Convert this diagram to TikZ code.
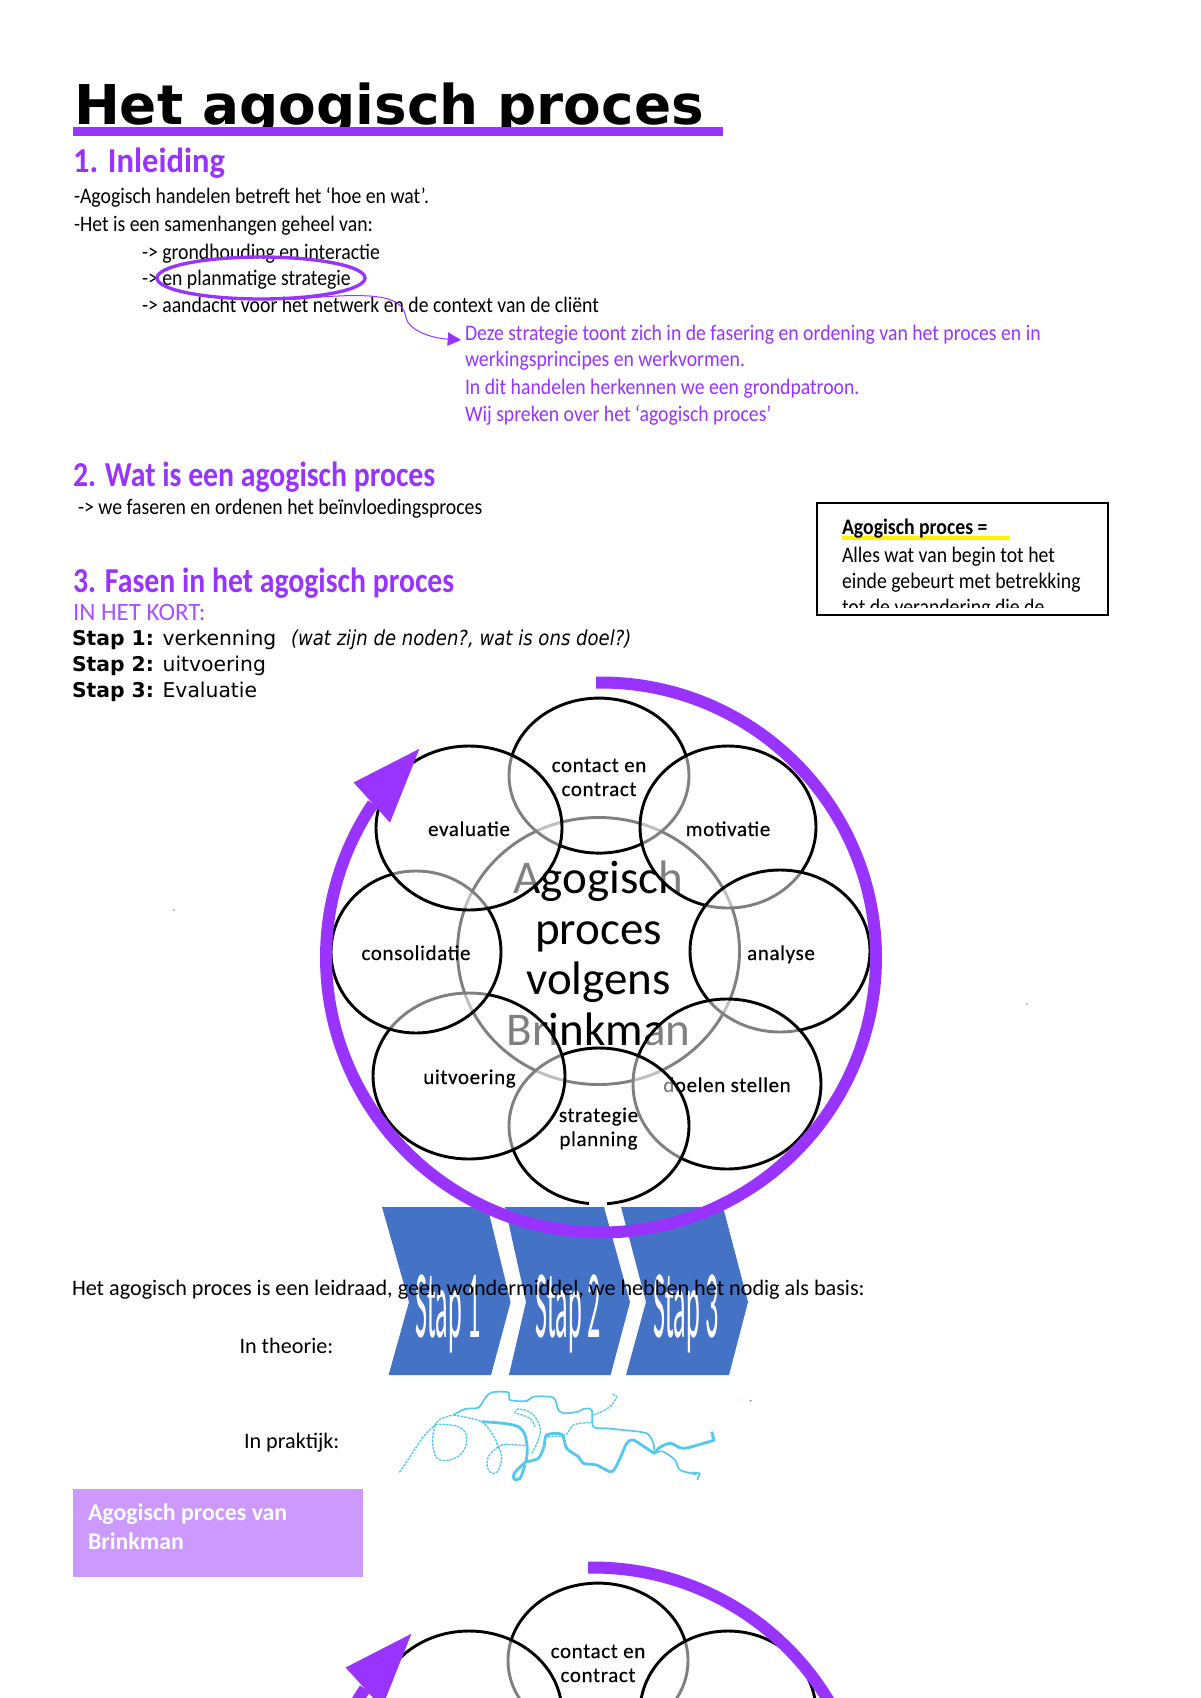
\documentclass[tikz,border=0pt]{standalone}
\usepackage{fontspec}
\usetikzlibrary{shapes.geometric,arrows.meta}
\setmainfont{Carlito}
\newfontfamily\nar[FakeStretch=.89]{Carlito}
\newfontfamily\hed[FakeStretch=.85]{Carlito}
\newfontfamily\vd{DejaVu Sans}
\definecolor{purp}{HTML}{9933FF}
\definecolor{lilac}{HTML}{CC99FF}
\definecolor{chev}{HTML}{4472C4}
\definecolor{sky}{HTML}{55C8EE}
\newcommand{\fsz}[1]{\fontsize{#1pt}{#1pt}\selectfont}
\tikzset{
  txt/.style={anchor=base west,inner sep=0pt,outer sep=0pt},
  ctr/.style={anchor=base,inner sep=0pt,outer sep=0pt},
  petalstyle/.style={draw=black,ellipse,inner sep=0pt,line width=1.75pt,fill=white,fill opacity=.5},
  body/.style={txt,font=\nar\fsz{13.3}},
  plain/.style={txt,font=\fsz{13.3}},
  pbody/.style={txt,font=\nar\fsz{13.3},text=purp},
  head/.style={txt,font=\hed\fsz{21}\bfseries,text=purp},
  vdt/.style={txt,font=\vd\fsz{12.2}},
  lab/.style={ctr,font=\fsz{12.6}\addfontfeatures{LetterSpace=3,FakeBold=.3}},
  ctrtxt/.style={ctr,font=\fsz{28.2}},
  chevron/.style={fill=chev,draw=none},
  staptxt/.style={ctr,text=white,font=\fsz{58}},
  dotsq/.style={draw=sky,line width=.8pt,dash pattern=on 1.6pt off .6pt,line join=round},
  thinsq/.style={draw=sky,line width=1pt,line join=round},
  fatsq/.style={draw=sky,line width=1.7pt,line join=round}
}
\newcommand{\petal}[5]{\node[petalstyle,minimum width=#4*1.2pt,minimum height=#5*1.2pt] (#1) at (#2,#3) {};}
\newcommand{\ringarc}[2]{%
  \draw[purp,line width=7.2pt] plot[domain=-91:214,samples=160,smooth] ({#1+275*cos(\x)},{#2+275*sin(\x)});
}
\begin{document}
\begin{tikzpicture}[x=0.6pt,y=-0.6pt]
\useasboundingbox (0,0) rectangle (1200,1698);
\fill[white] (0,0) rectangle (1200,1698);
% title
\begin{scope}
\clip (0,60) rectangle (1200,128);
\node[txt,font=\vd\bfseries\fsz{32.9}] (title) at (74,125) {Het agogisch proces};
\end{scope}
\fill[purp] (73,127.5) rectangle (723,136);
\node[head,font=\fsz{21}\bfseries\addfontfeatures{FakeStretch=.93}] (h1) at (73,173) {1. Inleiding};
\node[body] (l1) at (74,204) {-Agogisch handelen betreft het ‘hoe en wat’.};
\node[body] (l2) at (74,232) {-Het is een samenhangen geheel van:};
\node[body] (l3) at (142,260) {-> grondhouding en interactie};
\node[body] (l4) at (142,286) {-> en planmatige strategie};
\node[body] (l5) at (142,313) {-> aandacht voor het netwerk en de context van de cliënt};
\node[draw=purp,line width=2pt,ellipse,minimum width=208*.6pt,minimum height=42*.6pt,inner sep=0pt] (ell) at (261,278) {};
\coordinate (arrEnd) at (461,340);
\coordinate (bend) at (406,318);
\draw[purp,line width=.6pt,-{Triangle[length=8pt,width=8pt]}] (ell.-35) .. controls (385,290) and (403,298) .. (bend) .. controls (409,330) and (430,338) .. (arrEnd);
\node[pbody] (p1) at (465,341) {Deze strategie toont zich in de fasering en ordening van het proces en in};
\node[pbody] (p2) at (465,366) {werkingsprincipes en werkvormen.};
\node[pbody] (p3) at (465,395) {In dit handelen herkennen we een grondpatroon.};
\node[pbody] (p4) at (465,421) {Wij spreken over het ‘agogisch proces’};
\node[head] (h2) at (73,486) {2. Wat is een agogisch proces};
\node[body] (l6) at (78,514) {-> we faseren en ordenen het beïnvloedingsproces};
% box
\draw[black,line width=.7pt] (817,503) rectangle (1108,615);
\fill[yellow] (842,536) rectangle (1009,540);
\node[body,font=\nar\fsz{13.3}\bfseries] (bx1) at (842,534) {Agogisch proces =};
\node[body] (bx2) at (842,562) {Alles wat van begin tot het};
\node[body] (bx3) at (842,588) {einde gebeurt met betrekking};
\begin{scope}
\clip (830,595) rectangle (1100,607.5);
\node[body] (bx4) at (842,614) {tot de verandering die de};
\end{scope}
\node[head] (h3) at (73,592) {3. Fasen in het agogisch proces};
\node[txt,font=\fsz{15},text=purp!85] (ik) at (73,620) {IN HET KORT:};
\node[vdt] (s1) at (72,645) {\textbf{Stap 1:} verkenning};
\node[txt,font=\vd\itshape\fsz{12.4}] (s1b) at (291,645) {\scalebox{.875}[1]{(wat zijn de noden?, wat is ons doel?)}};
\node[vdt] (s2) at (72,671) {\textbf{Stap 2:} uitvoering};
\node[vdt] (s3) at (72,697) {\textbf{Stap 3:} Evaluatie};
% chevrons
\fill[chevron] (382,1207) -- (487.5,1207) -- (510.6,1302) -- (491,1375) -- (388.6,1375) -- (409,1302) -- cycle;
\fill[chevron] (505,1207) -- (604,1207) -- (630,1302) -- (610.6,1375) -- (509,1375) -- (526,1302) -- cycle;
\fill[chevron] (621,1207) -- (723,1207) -- (748,1302) -- (729,1375) -- (626,1375) -- (646,1302) -- cycle;
\node[staptxt] (st1) at (448,1337) {\scalebox{.27}[1]{Stap 1}};
\node[staptxt] (st2) at (568,1337) {\scalebox{.27}[1]{Stap 2}};
\node[staptxt] (st3) at (686,1337) {\scalebox{.27}[1]{Stap 3}};
% flower 1
\node[draw=black,ellipse,line width=1.75pt,inner sep=0pt,minimum width=282*.6pt,minimum height=267*.6pt] (core) at (598.5,951) {};
\node[ctrtxt] (c1) at (598.5,893) {Agogisch};
\node[ctrtxt] (c2) at (598.5,944) {proces};
\node[ctrtxt] (c3) at (598.5,994) {volgens};
\node[ctrtxt] (c4) at (598.5,1045) {Brinkman};
\petal{contact}{599}{775.6}{90}{77.5}
\node[lab] (t1a) at (599,772) {contact en};
\node[lab] (t1b) at (599,796) {contract};
\petal{motiv}{728}{827}{88}{81}
\node[lab] (t2) at (728,836) {motivatie};
\petal{analyse}{780}{951}{90}{81}
\node[lab] (t3) at (781,960) {analyse};
\petal{doelen}{727}{1084}{94}{85}
\node[lab] (t4) at (727,1092) {doelen stellen};
\petal{strat}{599}{1126}{90}{78}
\node[lab] (t5a) at (598.5,1122) {strategie};
\node[lab] (t5b) at (598.5,1146) {planning};
\petal{uitv}{469}{1076}{96}{83}
\node[lab] (t6) at (469.5,1084) {uitvoering};
\petal{cons}{416}{952}{85}{81}
\node[lab] (t7) at (416,960) {consolidatie};
\petal{eval}{469}{828}{93}{82}
\node[lab] (t8) at (469,836) {evaluatie};
\fill[white] (589,1202) rectangle (607,1206);
% ring 1
\ringarc{601}{957.5}
\fill[purp] (419.4,748.8) -- (353.6,782.5) -- (390,822.6) -- cycle;
% praktijk texts
\node[plain] (m1) at (72,1295) {Het agogisch proces is een leidraad, geen wondermiddel, we hebben het nodig als basis:};
\node[plain] (m2) at (239.5,1353) {In theorie:};
\node[plain] (m3) at (244,1448) {In praktijk:};
% squiggle
\begin{scope}[shift={(390,1385)},x=0.2pt,y=-0.2pt]
\draw[dotsq] plot[smooth,tension=.5] coordinates {(28,262) (60,215) (100,155) (135,120) (150,102) (190,90)};
\draw[thinsq] plot[smooth,tension=.5] coordinates {(190,90) (225,72) (265,68) (285,40) (305,22) (355,22) (360,45) (410,48) (430,35) (490,38) (505,75) (525,85) (565,80) (580,72) (605,75) (610,125) (650,130) (700,135) (770,145) (790,175) (795,200) (820,200) (855,225) (870,255) (920,268)};
\draw[thinsq] (905,262) -- (930,265) -- (922,285);
\draw[dotsq] plot[smooth,tension=.5] coordinates {(610,90) (640,78) (665,60) (680,35) (665,27)};
\draw[fatsq] plot[smooth,tension=.5] coordinates {(275,110) (340,115) (385,125) (405,150) (412,195) (408,230)};
\draw[fatsq] plot[smooth,tension=.5] coordinates {(408,230) (445,220) (462,185) (470,150) (515,148) (530,190) (565,215) (580,235) (620,240) (665,260) (690,220) (710,175) (730,165) (770,190) (795,205) (805,190) (840,175) (880,190) (940,175) (975,165)};
\draw[fatsq] (965,140) -- (972,165);
\draw[fatsq] plot[smooth,tension=.6] coordinates {(408,230) (375,262) (372,282) (390,280) (405,240)};
\draw[dotsq] plot[smooth,tension=.7] coordinates {(135,118) (205,125) (230,160) (210,210) (150,225) (128,180) (135,118)};
\draw[dotsq] plot[smooth,tension=.5] coordinates {(190,90) (275,110) (315,160) (325,185) (345,178) (410,182)};
\draw[dotsq] plot[smooth,tension=.7] coordinates {(325,185) (295,215) (295,255) (320,262) (335,220) (325,185)};
\draw[dotsq] plot[smooth,tension=.6] coordinates {(375,85) (385,72) (425,85) (450,125) (445,165) (425,205)};
\draw[dotsq] plot[smooth,tension=.6] coordinates {(380,85) (420,100) (435,125)};
\draw[dotsq] plot[smooth,tension=.6] coordinates {(462,155) (525,150) (550,120) (605,112)};
\end{scope}
\fill[black!50] (174,910) circle (.8);
\fill[black!50] (1027,1004) circle (.8);
\fill[chev] (750.7,1400.7) circle (.9);
% lilac box
\fill[lilac] (73,1489) rectangle (363,1577);
\node[txt,font=\fsz{14.3}\bfseries,text=white] (lb1) at (88,1520) {Agogisch proces van};
\node[txt,font=\fsz{14.3}\bfseries,text=white] (lb2) at (88,1549) {Brinkman};
% flower 2
\begin{scope}
\clip (0,1500) rectangle (1200,1698);
\petal{contactB}{598}{1660.6}{90}{77.5}
\node[lab] (u1a) at (598,1658) {contact en};
\node[lab] (u1b) at (598,1682) {contract};
\petal{motivB}{728}{1712}{88}{81}
\petal{evalB}{469}{1713}{93}{82}
\ringarc{593}{1842.5}
\fill[purp] (411.4,1633.8) -- (345.6,1667.5) -- (382,1707.6) -- cycle;
\end{scope}
\end{tikzpicture}
\end{document}
